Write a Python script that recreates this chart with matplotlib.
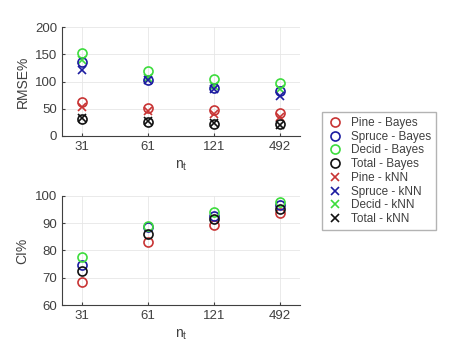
import matplotlib.pyplot as plt
import numpy as np

nt_labels = ['31', '61', '121', '492']
x = np.arange(1, 5)

# RMSE% values
rmse_pine_bayes = [62, 52, 48, 43]
rmse_spruce_bayes = [136, 103, 88, 83]
rmse_decid_bayes = [153, 119, 105, 98]
rmse_total_bayes = [31, 25, 22, 22]
rmse_pine_knn = [53, 45, 40, 34]
rmse_spruce_knn = [122, 103, 87, 73]
rmse_decid_knn = [139, 107, 92, 86]
rmse_total_knn = [33, 27, 23, 21]

# CI% values
ci_pine_bayes = [68.4, 83, 89.4, 93.6]
ci_spruce_bayes = [74.6, 88.6, 92.5, 96.5]
ci_decid_bayes = [77.5, 89, 94, 97.6]
ci_total_bayes = [72.6, 86, 91.6, 95.3]

red = '#c83434'
blue = '#1c1ca0'
green = '#3ddc3d'
black = '#111111'
axcol = '#404040'

plt.rcParams['font.family'] = ['Liberation Sans', 'DejaVu Sans']
plt.rcParams['font.size'] = 9

fig = plt.figure(figsize=(4.74, 3.56), dpi=100)
ax1 = fig.add_axes([0.131, 0.618, 0.502, 0.306])
ax2 = fig.add_axes([0.131, 0.143, 0.502, 0.307])

ms = 6.5
mew = 1.2
handles = []
for vals, col, lab in [(rmse_pine_bayes, red, 'Pine - Bayes'),
                       (rmse_spruce_bayes, blue, 'Spruce - Bayes'),
                       (rmse_decid_bayes, green, 'Decid - Bayes'),
                       (rmse_total_bayes, black, 'Total - Bayes')]:
    h, = ax1.plot(x, vals, 'o', mfc='none', mec=col, ms=ms, mew=mew, ls='none',
                  label=lab, zorder=3)
    handles.append(h)
# kNN crosses sit mostly underneath the circles
for vals, col, lab, z in [(rmse_pine_knn, red, 'Pine - kNN', 2.5),
                          (rmse_spruce_knn, blue, 'Spruce - kNN', 2.5),
                          (rmse_decid_knn, green, 'Decid - kNN', 2),
                          (rmse_total_knn, black, 'Total - kNN', 2.5)]:
    h, = ax1.plot(x, vals, 'x', color=col, ms=5.5, mew=mew, ls='none',
                  label=lab, zorder=z)
    handles.append(h)

for vals, col in [(ci_pine_bayes, red), (ci_spruce_bayes, blue),
                  (ci_decid_bayes, green), (ci_total_bayes, black)]:
    ax2.plot(x, vals, 'o', mfc='none', mec=col, ms=ms, mew=mew, ls='none')

ax1.set_ylim(0, 200)
ax1.set_yticks([0, 50, 100, 150, 200])
ax1.set_ylabel('RMSE%', color=axcol, fontsize=10)
ax2.set_ylim(60, 100)
ax2.set_yticks([60, 70, 80, 90, 100])
ax2.set_ylabel('CI%', color=axcol, fontsize=10)

for ax in (ax1, ax2):
    ax.set_xlim(0.7, 4.3)
    ax.set_xticks(x)
    ax.set_xticklabels(nt_labels)
    ax.set_xlabel('n$_\\mathregular{t}$', color=axcol, fontsize=10)
    ax.grid(True, color='#e6e6e6', lw=0.6)
    ax.set_axisbelow(True)
    ax.spines['top'].set_visible(False)
    ax.spines['right'].set_visible(False)
    ax.spines['left'].set_color(axcol)
    ax.spines['bottom'].set_color(axcol)
    ax.tick_params(direction='in', length=2.5, colors=axcol, labelsize=9.5)

fig.legend(handles=handles, loc='upper left', bbox_to_anchor=(0.679, 0.685),
           frameon=True, fancybox=False, edgecolor='#a0a0a0', fontsize=8.5,
           handletextpad=0.6, handlelength=1.5, labelspacing=0.15,
           borderpad=0.4, borderaxespad=0, labelcolor=axcol)

fig.savefig('out.png', dpi=100)
